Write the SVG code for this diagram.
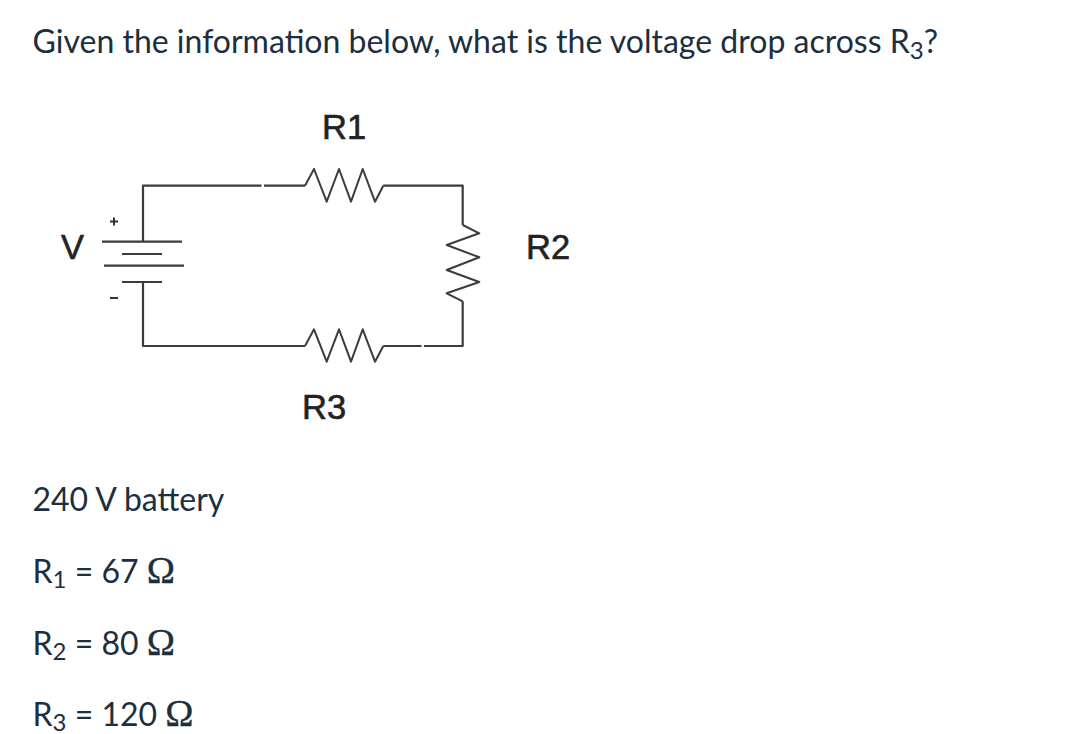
<svg xmlns="http://www.w3.org/2000/svg" width="1082" height="734" viewBox="0 0 1082 734">
<style>
.q{font-family:Lato,"Liberation Sans",sans-serif;font-size:32px;fill:#1b2f3f}
.s{font-size:24px}
.o{font-family:"Liberation Serif",serif;font-size:38px;fill:#1b2f3f;stroke:#1b2f3f;stroke-width:.3}
.l{font-family:"Liberation Sans",Arial,sans-serif;font-size:34.500px;fill:#222;stroke:#222;stroke-width:.6}
.w{fill:none;stroke:#3c3c3c;stroke-width:2.200;stroke-linejoin:round}
.z{fill:none;stroke:#3c3c3c;stroke-width:2;stroke-linejoin:round}
</style>
<rect width="1082" height="734" fill="#fff"/>
<g id="question"><text class="q" x="32.500" y="53">Given the information below, what is the voltage drop across R<tspan class="s" dy="6">3</tspan><tspan dy="-6">?</tspan></text></g>
<g id="connectors">
<path class="w" d="M143 241.700V185.700H261.500M264 185.700H305"/>
<path class="w" d="M383.300 185.700H462.700V225"/>
<path class="w" d="M462.700 301.300V346H424M421.500 346H383.300"/>
<path class="w" d="M305 346H143V282"/>
</g>
<g id="battery">
<path class="w" d="M102 241.700H182M122 254H162M104 265.700H184M122 282H162"/>
<path d="M110 221.500H118M114 217.500V225.500M110 298H118" fill="none" stroke="#333" stroke-width="2"/>
<text class="l" x="61" y="259">V</text>
</g>
<g id="r1">
<path class="z" d="M305 185.700L314 169L326.700 201.700L339 169L351 201.700L362.700 169L375 201.700L383.300 185.700"/>
<text class="l" x="322" y="139">R1</text>
</g>
<g id="r2">
<path class="z" d="M462.700 225L479.300 233.300L446.700 245L479.300 257.300L446.700 270L479.300 282L446.700 293.300L462.700 301.300"/>
<text class="l" x="526" y="259">R2</text>
</g>
<g id="r3">
<path class="z" d="M305 346L314 329.300L326.700 361.700L339 329.300L351 361.700L362.700 329.300L375 361.700L383.300 346"/>
<text class="l" x="302" y="419">R3</text>
</g>
<g id="values">
<text class="q" x="32.500" y="511">240 V battery</text>
<text class="q" x="32.500" y="582.500">R<tspan class="s" dy="5.500">1</tspan><tspan dy="-5.500"> = 67 </tspan><tspan class="o">Ω</tspan></text>
<text class="q" x="32.500" y="654.500">R<tspan class="s" dy="5.500">2</tspan><tspan dy="-5.500"> = 80 </tspan><tspan class="o">Ω</tspan></text>
<text class="q" x="32.500" y="726">R<tspan class="s" dy="5">3</tspan><tspan dy="-5"> = 120 </tspan><tspan class="o">Ω</tspan></text>
</g>
</svg>
